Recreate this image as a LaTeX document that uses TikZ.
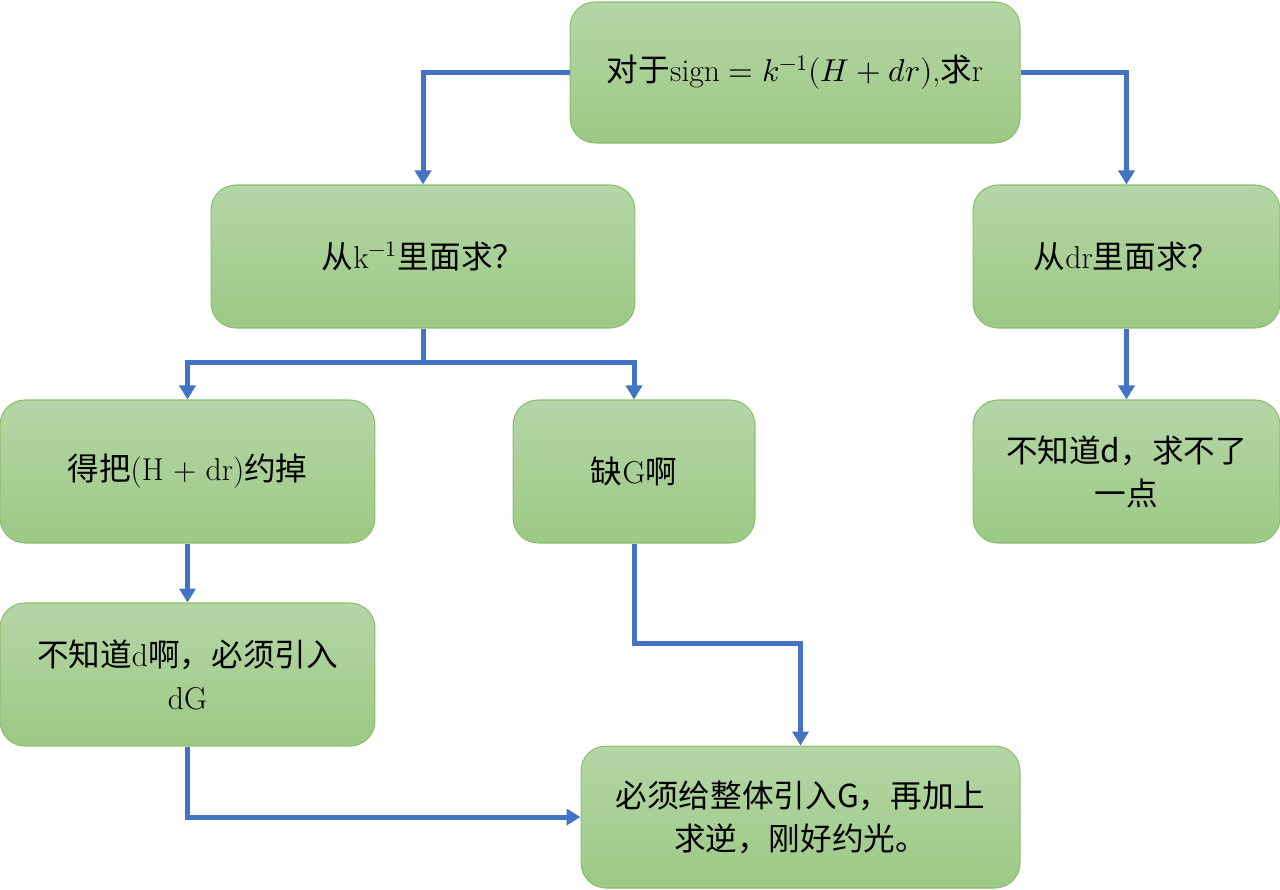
\documentclass[tikz,border=0pt]{standalone}
\usepackage{fontspec}
\usepackage{unicode-math}
\usepackage{tikz}
\usetikzlibrary{arrows.meta}
\newfontfamily\cjk{Noto Sans CJK SC}
\definecolor{boxtop}{HTML}{B5D6A6}
\definecolor{boxbot}{HTML}{9CC985}
\definecolor{boxline}{HTML}{8CBE6E}
\definecolor{flow}{HTML}{4472C4}
\newcommand{\rmtxt}[1]{{\rmfamily #1}}

\begin{document}
\begin{tikzpicture}[
    x=0.02cm, y=-0.02cm,
    box/.style={rectangle, draw=boxline, line width=0.6pt, rounded corners=0.5cm, top color=boxtop, bottom color=boxbot, inner sep=0pt, align=center, font=\cjk\fontsize{18}{24.5}\selectfont},
    arr/.style={-{Triangle[length=0.28cm, width=0.32cm]}, draw=flow, line width=0.1cm}
]
\useasboundingbox (0,0) rectangle (1280,889);

\node[box, minimum width=9cm, minimum height=2.82cm] (top) at (795,72.5) {对于\rmtxt{sign}${}=k^{-1}(H+dr)$\rmtxt{,}求\rmtxt{r}};
\node[box, minimum width=8.48cm, minimum height=2.86cm] (kinv) at (423,256.5) {从\rmtxt{k}$^{-1}$里面求？};
\node[box, minimum width=6.14cm, minimum height=2.86cm] (dr) at (1126.5,256.5) {从\rmtxt{dr}里面求？};
\node[box, minimum width=7.5cm, minimum height=2.86cm] (hdr) at (187.5,471.5) {得把\rmtxt{(H + dr)}约掉};
\node[box, minimum width=4.84cm, minimum height=2.86cm] (noG) at (634,471.5) {缺\rmtxt{G}啊};
\node[box, minimum width=6.14cm, minimum height=2.86cm] (nod) at (1126.5,471.5) {不知道d，求不了\\一点};
\node[box, minimum width=7.5cm, minimum height=2.86cm] (dG) at (187.5,674.5) {不知道\rmtxt{d}啊，必须引入\\\rmtxt{dG}};
\node[box, minimum width=8.78cm, minimum height=2.84cm] (fin) at (800.5,817) {必须给整体引入G，再加上\\求逆，刚好约光。};

\draw[arr] (top.west) -| (kinv.north);
\draw[arr] (top.east) -| (dr.north);
\draw[arr] (kinv.south) -- ++(0,34) -| (hdr.north);
\draw[arr] (kinv.south) -- ++(0,34) -| (noG.north);
\draw[arr] (dr.south) -- (nod.north);
\draw[arr] (hdr.south) -- (dG.north);
\draw[arr] (noG.south) -- ++(0,100) -| (fin.north);
\draw[arr] (dG.south) |- (fin.west);
\end{tikzpicture}
\end{document}
